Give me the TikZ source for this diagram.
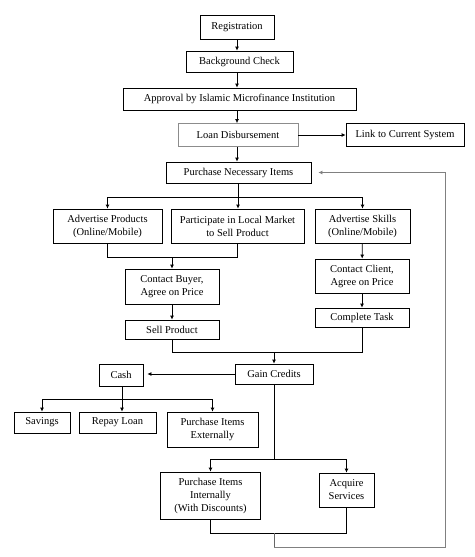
\documentclass[tikz,border=0pt]{standalone}
\usepackage{fontspec}
\setmainfont{Liberation Serif}
\usetikzlibrary{calc,positioning,arrows.meta}
\tikzset{
	stage/.style 2 args={draw, line width=0.8pt, align=center, inner sep=1pt, minimum width=#1pt, minimum height=#2pt, font=\fontsize{10.5}{13}\selectfont},
	wire/.style={line width=0.8pt},
	flow/.style={line width=0.8pt, -{Latex[length=4pt,width=4pt]}}
}

\begin{document}
\begin{tikzpicture}[x=1pt, y=-1pt]
			%%%%% START %%%%%
			\useasboundingbox[fill=white] (0, 0) rectangle (474, 557);
			
			\node[stage={74}{24}] (reg) at (237, 27) {Registration};
			\node[stage={107}{21}] (bg) at (239.5, 61.5) {Background Check};
			\node[stage={233}{22}] (appr) at (239.5, 99) {Approval by Islamic Microfinance Institution};
			\node[stage={120}{23}, draw=black!45] (loan) at (238, 135) {Loan Disbursement};
			\node[stage={118}{23}] (link) at (405, 135) {Link to Current System};
			\node[stage={145}{21}] (pni) at (238.5, 172.5) {Purchase Necessary Items};
			
			\node[stage={109}{34}] (advp) at (107.5, 226) {Advertise Products\\(Online/Mobile)};
			\node[stage={133}{34}] (part) at (237.5, 226) {Participate in Local Market\\to Sell Product};
			\node[stage={95}{34}] (advs) at (362.5, 226) {Advertise Skills\\(Online/Mobile)};
			
			\node[stage={94}{35}] (cbuy) at (172, 286.5) {Contact Buyer,\\Agree on Price};
			\node[stage={94}{19}] (sell) at (172, 329.5) {Sell Product};
			\node[stage={94}{34}] (ccli) at (362, 276) {Contact Client,\\Agree on Price};
			\node[stage={94}{19}] (ctask) at (362, 317.5) {Complete Task};
			
			\node[stage={78}{20}] (gain) at (274, 374) {Gain Credits};
			\node[stage={44}{22}] (cash) at (121, 375) {Cash};
			\node[stage={56}{21}] (sav) at (42, 422.5) {Savings};
			\node[stage={77}{21}] (repay) at (117.5, 422.5) {Repay Loan};
			\node[stage={91}{35}] (pext) at (212.5, 429.5) {Purchase Items\\Externally};
			
			\node[stage={100}{47}] (pint) at (210.5, 495.5) {Purchase Items\\Internally\\(With Discounts)};
			\node[stage={55}{34}] (acq) at (346.5, 490) {Acquire\\Services};
			
			% straight down the top column
			\draw[flow] (reg) -- (reg |- bg.north);
			\draw[flow] (bg.south -| reg) -- (reg |- appr.north);
			\draw[flow] (appr.south -| reg) -- (reg |- loan.north);
			\draw[flow] (loan.south -| reg) -- (reg |- pni.north);
			\draw[flow] (loan.east) -- (link.west);
			
			\coordinate (fork1) at (238, 197);
			\draw[wire] (pni.south -| fork1) -- (fork1);
			\draw[wire] (advp |- fork1) -- (advs |- fork1);
			\draw[flow] (advp |- fork1) -- (advp.north);
			\draw[flow] (fork1) -- (fork1 |- part.north);
			\draw[flow] (advs |- fork1) -- (advs.north);
			
			\coordinate (join1) at (172, 257);
			\draw[wire] (advp.south) -- (advp |- join1) -- (part |- join1) -- (part.south);
			\draw[flow] (join1) -- (cbuy.north);
			\draw[flow] (cbuy) -- (sell);
			\draw[flow] (advs) -- (ccli);
			\draw[flow] (ccli) -- (ctask);
			
			\coordinate (join2) at (274, 352);
			\draw[wire] (sell.south) -- (sell |- join2) -- (ctask |- join2) -- (ctask.south);
			\draw[flow] (join2) -- (gain.north);
			\draw[flow, shorten >=4pt] (gain.west) -- (cash.east |- gain.west);
			
			\coordinate (fork2) at (122, 399);
			\draw[wire] (cash.south -| fork2) -- (fork2);
			\draw[wire] (sav |- fork2) -- (pext |- fork2);
			\draw[flow] (sav |- fork2) -- (sav.north);
			\draw[flow] (fork2) -- (fork2 |- repay.north);
			\draw[flow] (pext |- fork2) -- (pext.north);
			
			\coordinate (fork3) at (274, 459);
			\draw[wire] (gain.south) -- (fork3);
			\draw[wire] (pint |- fork3) -- (acq |- fork3);
			\draw[flow] (pint |- fork3) -- (pint.north);
			\draw[flow] (acq |- fork3) -- (acq.north);
			
			\coordinate (join3) at (274, 533);
			\coordinate (loopbot) at (274, 547);
			\coordinate (loopright) at (445, 547);
			\draw[wire] (pint.south) -- (pint |- join3) -- (acq |- join3) -- (acq.south);
			\draw[wire, black!60] (join3) -- (loopbot);
			\draw[flow, black!50, shorten >=7pt] (loopbot) -- (loopright) |- (pni.east);
			
			%%%%% END %%%%%
\end{tikzpicture}
\end{document}
